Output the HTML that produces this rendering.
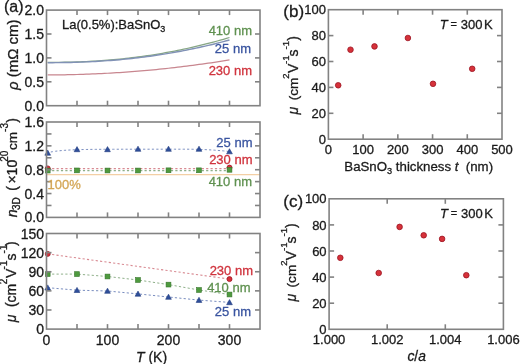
<!DOCTYPE html>
<html><head><meta charset="utf-8"><style>
html,body{margin:0;padding:0;background:#fff;}
svg{display:block;font-family:"Liberation Sans", Arial, sans-serif;}
text{stroke-width:0.3px;}
</style></head><body>
<svg width="520" height="364" viewBox="0 0 520 364">
<rect width="520" height="364" fill="#fff"/>
<polyline points="47.72,74.92 49.55,74.91 52.60,74.90 55.65,74.88 58.70,74.85 61.75,74.81 64.80,74.77 67.85,74.71 70.90,74.65 73.95,74.58 77.00,74.50 80.05,74.41 83.10,74.32 86.15,74.21 89.20,74.10 92.25,73.98 95.30,73.85 98.35,73.71 101.40,73.57 104.45,73.41 107.50,73.25 110.55,73.08 113.60,72.90 116.65,72.71 119.70,72.52 122.75,72.31 125.80,72.10 128.85,71.88 131.90,71.65 134.95,71.41 138.00,71.16 141.05,70.91 144.10,70.65 147.15,70.38 150.20,70.10 153.25,69.81 156.30,69.51 159.35,69.21 162.40,68.90 165.45,68.58 168.50,68.25 171.55,67.91 174.60,67.56 177.65,67.21 180.70,66.85 183.75,66.47 186.80,66.09 189.85,65.71 192.90,65.31 195.95,64.91 199.00,64.49 202.05,64.07 205.10,63.64 208.15,63.21 211.20,62.76 214.25,62.30 217.30,61.84 220.35,61.37 223.40,60.89 226.45,60.40 229.50,59.91" fill="none" stroke="#c8868f" stroke-width="1.25" />
<polyline points="47.72,62.39 49.55,62.39 52.60,62.38 55.65,62.36 58.70,62.33 61.75,62.29 64.80,62.24 67.85,62.17 70.90,62.10 73.95,62.01 77.00,61.91 80.05,61.80 83.10,61.67 86.15,61.53 89.20,61.38 92.25,61.21 95.30,61.03 98.35,60.84 101.40,60.63 104.45,60.41 107.50,60.17 110.55,59.92 113.60,59.65 116.65,59.37 119.70,59.08 122.75,58.76 125.80,58.44 128.85,58.09 131.90,57.74 134.95,57.36 138.00,56.97 141.05,56.57 144.10,56.15 147.15,55.71 150.20,55.26 153.25,54.78 156.30,54.30 159.35,53.80 162.40,53.28 165.45,52.74 168.50,52.19 171.55,51.62 174.60,51.03 177.65,50.43 180.70,49.81 183.75,49.17 186.80,48.51 189.85,47.84 192.90,47.15 195.95,46.44 199.00,45.72 202.05,44.98 205.10,44.22 208.15,43.44 211.20,42.64 214.25,41.83 217.30,41.00 220.35,40.15 223.40,39.28 226.45,38.39 229.50,37.49" fill="none" stroke="#86a684" stroke-width="1.25" />
<polyline points="47.72,62.68 49.55,62.68 52.60,62.67 55.65,62.65 58.70,62.62 61.75,62.58 64.80,62.54 67.85,62.48 70.90,62.41 73.95,62.33 77.00,62.24 80.05,62.14 83.10,62.02 86.15,61.90 89.20,61.76 92.25,61.60 95.30,61.44 98.35,61.26 101.40,61.07 104.45,60.87 107.50,60.65 110.55,60.43 113.60,60.18 116.65,59.93 119.70,59.66 122.75,59.37 125.80,59.07 128.85,58.76 131.90,58.43 134.95,58.09 138.00,57.74 141.05,57.37 144.10,56.98 147.15,56.59 150.20,56.17 153.25,55.74 156.30,55.30 159.35,54.84 162.40,54.37 165.45,53.88 168.50,53.37 171.55,52.86 174.60,52.32 177.65,51.77 180.70,51.20 183.75,50.62 186.80,50.03 189.85,49.41 192.90,48.78 195.95,48.14 199.00,47.48 202.05,46.80 205.10,46.11 208.15,45.40 211.20,44.67 214.25,43.93 217.30,43.17 220.35,42.40 223.40,41.61 226.45,40.80 229.50,39.97" fill="none" stroke="#8192b6" stroke-width="1.45" />
<line x1="46.50" y1="174.60" x2="260.00" y2="174.60" stroke="#f3cfa5" stroke-width="1.2" />
<line x1="47.72" y1="168.60" x2="229.50" y2="168.60" stroke="#d88a92" stroke-width="1.1" stroke-dasharray="2.2,2.2"/>
<line x1="47.72" y1="170.60" x2="229.50" y2="170.60" stroke="#8fb08a" stroke-width="1.1" stroke-dasharray="2.2,2.2"/>
<polyline points="46.50,152.90 49.55,152.23 52.60,151.68 55.65,151.23 58.70,150.86 61.75,150.56 64.80,150.31 67.85,150.11 70.90,149.95 73.95,149.81 77.00,149.70 80.05,149.61 83.10,149.54 86.15,149.47 89.20,149.42 92.25,149.38 95.30,149.35 98.35,149.32 101.40,149.30 104.45,149.28 107.50,149.27 110.55,149.26 113.60,149.25 116.65,149.24 119.70,149.23 122.75,149.22 125.80,149.22 128.85,149.22 131.90,149.21 134.95,149.21 138.00,149.21 141.05,149.21 144.10,149.21 147.15,149.21 150.20,149.20 153.25,149.20 156.30,149.20 159.35,149.20 162.40,149.20 165.45,149.20 168.50,149.20 171.55,149.20 174.60,149.20 177.65,149.20 180.70,149.20 183.75,149.20 186.80,149.20 189.85,149.21 192.90,149.25 195.95,149.31 199.00,149.39 202.05,149.49 205.10,149.62 208.15,149.78 211.20,149.95 214.25,150.15 217.30,150.37 220.35,150.62 223.40,150.89 226.45,151.18 229.50,151.50" fill="none" stroke="#7a8ec0" stroke-width="1.0" stroke-dasharray="2.2,2.2"/>
<circle cx="47.72" cy="168.40" r="2.5" fill="#d6323a" stroke="#9c1422" stroke-width="0.8"/>
<circle cx="229.50" cy="167.60" r="2.5" fill="#d6323a" stroke="#9c1422" stroke-width="0.8"/>
<rect x="45.32" y="168.20" width="4.8" height="4.8" fill="#4e9a3e" stroke="#35752b" stroke-width="0.6"/>
<rect x="74.60" y="168.00" width="4.8" height="4.8" fill="#4e9a3e" stroke="#35752b" stroke-width="0.6"/>
<rect x="105.10" y="168.10" width="4.8" height="4.8" fill="#4e9a3e" stroke="#35752b" stroke-width="0.6"/>
<rect x="135.60" y="168.10" width="4.8" height="4.8" fill="#4e9a3e" stroke="#35752b" stroke-width="0.6"/>
<rect x="166.10" y="167.90" width="4.8" height="4.8" fill="#4e9a3e" stroke="#35752b" stroke-width="0.6"/>
<rect x="196.60" y="167.90" width="4.8" height="4.8" fill="#4e9a3e" stroke="#35752b" stroke-width="0.6"/>
<rect x="227.10" y="167.40" width="4.8" height="4.8" fill="#4e9a3e" stroke="#35752b" stroke-width="0.6"/>
<polygon points="47.72,150.08 44.87,155.21 50.57,155.21" fill="#2f4f9a" stroke="#203a80" stroke-width="0.6"/>
<polygon points="77.00,146.58 74.15,151.71 79.85,151.71" fill="#2f4f9a" stroke="#203a80" stroke-width="0.6"/>
<polygon points="107.50,146.58 104.65,151.71 110.35,151.71" fill="#2f4f9a" stroke="#203a80" stroke-width="0.6"/>
<polygon points="138.00,146.18 135.15,151.31 140.85,151.31" fill="#2f4f9a" stroke="#203a80" stroke-width="0.6"/>
<polygon points="168.50,146.18 165.65,151.31 171.35,151.31" fill="#2f4f9a" stroke="#203a80" stroke-width="0.6"/>
<polygon points="199.00,146.18 196.15,151.31 201.85,151.31" fill="#2f4f9a" stroke="#203a80" stroke-width="0.6"/>
<polygon points="229.50,148.68 226.65,153.81 232.35,153.81" fill="#2f4f9a" stroke="#203a80" stroke-width="0.6"/>
<line x1="47.72" y1="253.90" x2="229.50" y2="279.10" stroke="#d88a92" stroke-width="1.1" stroke-dasharray="2.2,2.2"/>
<polyline points="47.72,274.10 77.00,274.10 107.50,276.50 138.00,280.00 168.50,284.60 199.00,290.00 229.50,294.50" fill="none" stroke="#8fb08a" stroke-width="1.0" stroke-dasharray="2.2,2.2"/>
<polyline points="47.72,287.70 77.00,290.20 107.50,291.00 138.00,293.90 168.50,297.00 199.00,300.10 229.50,302.40" fill="none" stroke="#7a8ec0" stroke-width="1.0" stroke-dasharray="2.2,2.2"/>
<circle cx="47.72" cy="253.90" r="2.5" fill="#d6323a" stroke="#9c1422" stroke-width="0.8"/>
<circle cx="229.50" cy="279.10" r="2.5" fill="#d6323a" stroke="#9c1422" stroke-width="0.8"/>
<rect x="45.32" y="271.70" width="4.8" height="4.8" fill="#4e9a3e" stroke="#35752b" stroke-width="0.6"/>
<rect x="74.60" y="271.70" width="4.8" height="4.8" fill="#4e9a3e" stroke="#35752b" stroke-width="0.6"/>
<rect x="105.10" y="274.10" width="4.8" height="4.8" fill="#4e9a3e" stroke="#35752b" stroke-width="0.6"/>
<rect x="135.60" y="277.60" width="4.8" height="4.8" fill="#4e9a3e" stroke="#35752b" stroke-width="0.6"/>
<rect x="166.10" y="282.20" width="4.8" height="4.8" fill="#4e9a3e" stroke="#35752b" stroke-width="0.6"/>
<rect x="196.60" y="287.60" width="4.8" height="4.8" fill="#4e9a3e" stroke="#35752b" stroke-width="0.6"/>
<rect x="227.10" y="292.10" width="4.8" height="4.8" fill="#4e9a3e" stroke="#35752b" stroke-width="0.6"/>
<polygon points="47.72,284.88 44.87,290.01 50.57,290.01" fill="#2f4f9a" stroke="#203a80" stroke-width="0.6"/>
<polygon points="77.00,287.38 74.15,292.51 79.85,292.51" fill="#2f4f9a" stroke="#203a80" stroke-width="0.6"/>
<polygon points="107.50,288.18 104.65,293.31 110.35,293.31" fill="#2f4f9a" stroke="#203a80" stroke-width="0.6"/>
<polygon points="138.00,291.08 135.15,296.21 140.85,296.21" fill="#2f4f9a" stroke="#203a80" stroke-width="0.6"/>
<polygon points="168.50,294.18 165.65,299.31 171.35,299.31" fill="#2f4f9a" stroke="#203a80" stroke-width="0.6"/>
<polygon points="199.00,297.28 196.15,302.41 201.85,302.41" fill="#2f4f9a" stroke="#203a80" stroke-width="0.6"/>
<polygon points="229.50,299.58 226.65,304.71 232.35,304.71" fill="#2f4f9a" stroke="#203a80" stroke-width="0.6"/>
<rect x="46.50" y="10.10" width="213.50" height="95.60" fill="none" stroke="#828282" stroke-width="1.6"/>
<line x1="77.00" y1="105.70" x2="77.00" y2="100.70" stroke="#828282" stroke-width="1.6" />
<line x1="77.00" y1="10.10" x2="77.00" y2="15.10" stroke="#828282" stroke-width="1.6" />
<line x1="107.50" y1="105.70" x2="107.50" y2="100.70" stroke="#828282" stroke-width="1.6" />
<line x1="107.50" y1="10.10" x2="107.50" y2="15.10" stroke="#828282" stroke-width="1.6" />
<line x1="138.00" y1="105.70" x2="138.00" y2="100.70" stroke="#828282" stroke-width="1.6" />
<line x1="138.00" y1="10.10" x2="138.00" y2="15.10" stroke="#828282" stroke-width="1.6" />
<line x1="168.50" y1="105.70" x2="168.50" y2="100.70" stroke="#828282" stroke-width="1.6" />
<line x1="168.50" y1="10.10" x2="168.50" y2="15.10" stroke="#828282" stroke-width="1.6" />
<line x1="199.00" y1="105.70" x2="199.00" y2="100.70" stroke="#828282" stroke-width="1.6" />
<line x1="199.00" y1="10.10" x2="199.00" y2="15.10" stroke="#828282" stroke-width="1.6" />
<line x1="229.50" y1="105.70" x2="229.50" y2="100.70" stroke="#828282" stroke-width="1.6" />
<line x1="229.50" y1="10.10" x2="229.50" y2="15.10" stroke="#828282" stroke-width="1.6" />
<rect x="46.50" y="122.00" width="213.50" height="95.40" fill="none" stroke="#828282" stroke-width="1.6"/>
<line x1="77.00" y1="217.40" x2="77.00" y2="212.40" stroke="#828282" stroke-width="1.6" />
<line x1="77.00" y1="122.00" x2="77.00" y2="127.00" stroke="#828282" stroke-width="1.6" />
<line x1="107.50" y1="217.40" x2="107.50" y2="212.40" stroke="#828282" stroke-width="1.6" />
<line x1="107.50" y1="122.00" x2="107.50" y2="127.00" stroke="#828282" stroke-width="1.6" />
<line x1="138.00" y1="217.40" x2="138.00" y2="212.40" stroke="#828282" stroke-width="1.6" />
<line x1="138.00" y1="122.00" x2="138.00" y2="127.00" stroke="#828282" stroke-width="1.6" />
<line x1="168.50" y1="217.40" x2="168.50" y2="212.40" stroke="#828282" stroke-width="1.6" />
<line x1="168.50" y1="122.00" x2="168.50" y2="127.00" stroke="#828282" stroke-width="1.6" />
<line x1="199.00" y1="217.40" x2="199.00" y2="212.40" stroke="#828282" stroke-width="1.6" />
<line x1="199.00" y1="122.00" x2="199.00" y2="127.00" stroke="#828282" stroke-width="1.6" />
<line x1="229.50" y1="217.40" x2="229.50" y2="212.40" stroke="#828282" stroke-width="1.6" />
<line x1="229.50" y1="122.00" x2="229.50" y2="127.00" stroke="#828282" stroke-width="1.6" />
<rect x="46.50" y="233.50" width="213.50" height="95.60" fill="none" stroke="#828282" stroke-width="1.6"/>
<line x1="77.00" y1="329.10" x2="77.00" y2="324.10" stroke="#828282" stroke-width="1.6" />
<line x1="77.00" y1="233.50" x2="77.00" y2="238.50" stroke="#828282" stroke-width="1.6" />
<line x1="107.50" y1="329.10" x2="107.50" y2="324.10" stroke="#828282" stroke-width="1.6" />
<line x1="107.50" y1="233.50" x2="107.50" y2="238.50" stroke="#828282" stroke-width="1.6" />
<line x1="138.00" y1="329.10" x2="138.00" y2="324.10" stroke="#828282" stroke-width="1.6" />
<line x1="138.00" y1="233.50" x2="138.00" y2="238.50" stroke="#828282" stroke-width="1.6" />
<line x1="168.50" y1="329.10" x2="168.50" y2="324.10" stroke="#828282" stroke-width="1.6" />
<line x1="168.50" y1="233.50" x2="168.50" y2="238.50" stroke="#828282" stroke-width="1.6" />
<line x1="199.00" y1="329.10" x2="199.00" y2="324.10" stroke="#828282" stroke-width="1.6" />
<line x1="199.00" y1="233.50" x2="199.00" y2="238.50" stroke="#828282" stroke-width="1.6" />
<line x1="229.50" y1="329.10" x2="229.50" y2="324.10" stroke="#828282" stroke-width="1.6" />
<line x1="229.50" y1="233.50" x2="229.50" y2="238.50" stroke="#828282" stroke-width="1.6" />
<line x1="46.50" y1="81.80" x2="51.50" y2="81.80" stroke="#828282" stroke-width="1.6" />
<line x1="260.00" y1="81.80" x2="255.00" y2="81.80" stroke="#828282" stroke-width="1.6" />
<line x1="46.50" y1="57.90" x2="51.50" y2="57.90" stroke="#828282" stroke-width="1.6" />
<line x1="260.00" y1="57.90" x2="255.00" y2="57.90" stroke="#828282" stroke-width="1.6" />
<line x1="46.50" y1="34.00" x2="51.50" y2="34.00" stroke="#828282" stroke-width="1.6" />
<line x1="260.00" y1="34.00" x2="255.00" y2="34.00" stroke="#828282" stroke-width="1.6" />
<text x="44.00" y="110.70" font-size="14" text-anchor="end" fill="#1a1a1a" stroke="#1a1a1a" >0.0</text>
<text x="44.00" y="86.80" font-size="14" text-anchor="end" fill="#1a1a1a" stroke="#1a1a1a" >0.5</text>
<text x="44.00" y="62.90" font-size="14" text-anchor="end" fill="#1a1a1a" stroke="#1a1a1a" >1.0</text>
<text x="44.00" y="39.00" font-size="14" text-anchor="end" fill="#1a1a1a" stroke="#1a1a1a" >1.5</text>
<text x="44.00" y="15.10" font-size="14" text-anchor="end" fill="#1a1a1a" stroke="#1a1a1a" >2.0</text>
<line x1="46.50" y1="205.47" x2="51.50" y2="205.47" stroke="#828282" stroke-width="1.6" />
<line x1="260.00" y1="205.47" x2="255.00" y2="205.47" stroke="#828282" stroke-width="1.6" />
<line x1="46.50" y1="193.55" x2="51.50" y2="193.55" stroke="#828282" stroke-width="1.6" />
<line x1="260.00" y1="193.55" x2="255.00" y2="193.55" stroke="#828282" stroke-width="1.6" />
<line x1="46.50" y1="181.62" x2="51.50" y2="181.62" stroke="#828282" stroke-width="1.6" />
<line x1="260.00" y1="181.62" x2="255.00" y2="181.62" stroke="#828282" stroke-width="1.6" />
<line x1="46.50" y1="169.70" x2="51.50" y2="169.70" stroke="#828282" stroke-width="1.6" />
<line x1="260.00" y1="169.70" x2="255.00" y2="169.70" stroke="#828282" stroke-width="1.6" />
<line x1="46.50" y1="157.78" x2="51.50" y2="157.78" stroke="#828282" stroke-width="1.6" />
<line x1="260.00" y1="157.78" x2="255.00" y2="157.78" stroke="#828282" stroke-width="1.6" />
<line x1="46.50" y1="145.85" x2="51.50" y2="145.85" stroke="#828282" stroke-width="1.6" />
<line x1="260.00" y1="145.85" x2="255.00" y2="145.85" stroke="#828282" stroke-width="1.6" />
<line x1="46.50" y1="133.93" x2="51.50" y2="133.93" stroke="#828282" stroke-width="1.6" />
<line x1="260.00" y1="133.93" x2="255.00" y2="133.93" stroke="#828282" stroke-width="1.6" />
<text x="44.00" y="222.40" font-size="14" text-anchor="end" fill="#1a1a1a" stroke="#1a1a1a" >0.0</text>
<text x="44.00" y="198.55" font-size="14" text-anchor="end" fill="#1a1a1a" stroke="#1a1a1a" >0.4</text>
<text x="44.00" y="174.70" font-size="14" text-anchor="end" fill="#1a1a1a" stroke="#1a1a1a" >0.8</text>
<text x="44.00" y="150.85" font-size="14" text-anchor="end" fill="#1a1a1a" stroke="#1a1a1a" >1.2</text>
<text x="44.00" y="127.00" font-size="14" text-anchor="end" fill="#1a1a1a" stroke="#1a1a1a" >1.6</text>
<line x1="46.50" y1="309.98" x2="51.50" y2="309.98" stroke="#828282" stroke-width="1.6" />
<line x1="260.00" y1="309.98" x2="255.00" y2="309.98" stroke="#828282" stroke-width="1.6" />
<line x1="46.50" y1="290.86" x2="51.50" y2="290.86" stroke="#828282" stroke-width="1.6" />
<line x1="260.00" y1="290.86" x2="255.00" y2="290.86" stroke="#828282" stroke-width="1.6" />
<line x1="46.50" y1="271.74" x2="51.50" y2="271.74" stroke="#828282" stroke-width="1.6" />
<line x1="260.00" y1="271.74" x2="255.00" y2="271.74" stroke="#828282" stroke-width="1.6" />
<line x1="46.50" y1="252.62" x2="51.50" y2="252.62" stroke="#828282" stroke-width="1.6" />
<line x1="260.00" y1="252.62" x2="255.00" y2="252.62" stroke="#828282" stroke-width="1.6" />
<text x="44.00" y="334.10" font-size="14" text-anchor="end" fill="#1a1a1a" stroke="#1a1a1a" >0</text>
<text x="44.00" y="314.98" font-size="14" text-anchor="end" fill="#1a1a1a" stroke="#1a1a1a" >30</text>
<text x="44.00" y="295.86" font-size="14" text-anchor="end" fill="#1a1a1a" stroke="#1a1a1a" >60</text>
<text x="44.00" y="276.74" font-size="14" text-anchor="end" fill="#1a1a1a" stroke="#1a1a1a" >90</text>
<text x="44.00" y="257.62" font-size="14" text-anchor="end" fill="#1a1a1a" stroke="#1a1a1a" >120</text>
<text x="44.00" y="238.50" font-size="14" text-anchor="end" fill="#1a1a1a" stroke="#1a1a1a" >150</text>
<text x="46.50" y="345.20" font-size="14" text-anchor="middle" fill="#1a1a1a" stroke="#1a1a1a" >0</text>
<text x="107.50" y="345.20" font-size="14" text-anchor="middle" fill="#1a1a1a" stroke="#1a1a1a" >100</text>
<text x="168.50" y="345.20" font-size="14" text-anchor="middle" fill="#1a1a1a" stroke="#1a1a1a" >200</text>
<text x="229.50" y="345.20" font-size="14" text-anchor="middle" fill="#1a1a1a" stroke="#1a1a1a" >300</text>
<text x="136.00" y="362.00" font-size="14" text-anchor="start" fill="#1a1a1a" stroke="#1a1a1a" ><tspan font-style="italic">T</tspan> (K)</text>
<text x="4.00" y="12.00" font-size="16" text-anchor="start" fill="#1a1a1a" stroke="#1a1a1a" >(a)</text>
<text x="62.00" y="28.90" font-size="13" text-anchor="start" fill="#1a1a1a" stroke="#1a1a1a" >La(0.5%):BaSnO<tspan font-size="9" dy="3">3</tspan></text>
<text x="252.00" y="34.50" font-size="13" text-anchor="end" fill="#5f9150" stroke="#5f9150" >410 nm</text>
<text x="251.00" y="53.40" font-size="13" text-anchor="end" fill="#3a55a0" stroke="#3a55a0" >25 nm</text>
<text x="252.00" y="74.90" font-size="13" text-anchor="end" fill="#d0343e" stroke="#d0343e" >230 nm</text>
<text x="252.50" y="146.80" font-size="13" text-anchor="end" fill="#3a55a0" stroke="#3a55a0" >25 nm</text>
<text x="252.50" y="164.20" font-size="13" text-anchor="end" fill="#d0343e" stroke="#d0343e" >230 nm</text>
<text x="252.00" y="186.10" font-size="13" text-anchor="end" fill="#5f9150" stroke="#5f9150" >410 nm</text>
<text x="47.50" y="189.40" font-size="13" text-anchor="start" fill="#d4a655" stroke="#d4a655" >100%</text>
<text x="253.00" y="275.10" font-size="13" text-anchor="end" fill="#d0343e" stroke="#d0343e" >230 nm</text>
<text x="250.50" y="292.00" font-size="13" text-anchor="end" fill="#5f9150" stroke="#5f9150" >410 nm</text>
<text x="251.00" y="315.50" font-size="13" text-anchor="end" fill="#3a55a0" stroke="#3a55a0" >25 nm</text>
<text transform="translate(17.70,54.80) rotate(-90)" font-size="15" text-anchor="middle" fill="#1a1a1a" stroke="#1a1a1a"><tspan font-style="italic">ρ</tspan> (mΩ cm)</text>
<text transform="translate(17.30,0) rotate(-90)" fill="#1a1a1a" stroke="#1a1a1a"><tspan x="-217.13" y="0.00" font-size="14" font-style="italic">n</tspan><tspan x="-210.08" y="3.00" font-size="10">3D</tspan><tspan x="-190.87" y="0.00" font-size="14">(</tspan><tspan x="-183.57" y="0.00" font-size="14">×10</tspan><tspan x="-161.75" y="-9.60" font-size="10">20</tspan><tspan x="-150.08" y="0.00" font-size="13.6">cm</tspan><tspan x="-131.94" y="-9.60" font-size="10">-3</tspan><tspan x="-122.78" y="0.00" font-size="14">)</tspan></text>
<text transform="translate(16.40,0) rotate(-90)" fill="#1a1a1a" stroke="#1a1a1a"><tspan x="-322.21" y="0.00" font-size="14" font-style="italic">μ</tspan><tspan x="-307.12" y="0.00" font-size="14">(cm</tspan><tspan x="-284.25" y="-9.40" font-size="10">2</tspan><tspan x="-278.06" y="0.00" font-size="14">V</tspan><tspan x="-269.44" y="-9.40" font-size="10">-1</tspan><tspan x="-260.39" y="0.00" font-size="14">s</tspan><tspan x="-253.44" y="-9.40" font-size="10">-1</tspan><tspan x="-246.08" y="0.00" font-size="14">)</tspan></text>
<text transform="translate(297.80,0) rotate(-90)" fill="#1a1a1a" stroke="#1a1a1a"><tspan x="-114.46" y="0.00" font-size="14" font-style="italic">μ</tspan><tspan x="-100.34" y="0.00" font-size="13.6">(cm</tspan><tspan x="-78.73" y="-8.60" font-size="9.5">2</tspan><tspan x="-73.06" y="0.00" font-size="14">V</tspan><tspan x="-63.92" y="-8.60" font-size="9.5">-1</tspan><tspan x="-56.39" y="0.00" font-size="14">s</tspan><tspan x="-49.42" y="-8.60" font-size="9.5">-1</tspan><tspan x="-40.83" y="0.00" font-size="14">)</tspan></text>
<text transform="translate(295.60,0) rotate(-90)" fill="#1a1a1a" stroke="#1a1a1a"><tspan x="-301.56" y="0.00" font-size="14" font-style="italic">μ</tspan><tspan x="-287.44" y="0.00" font-size="13.6">(cm</tspan><tspan x="-265.83" y="-8.60" font-size="9.5">2</tspan><tspan x="-260.16" y="0.00" font-size="14">V</tspan><tspan x="-251.02" y="-8.60" font-size="9.5">-1</tspan><tspan x="-243.49" y="0.00" font-size="14">s</tspan><tspan x="-236.52" y="-8.60" font-size="9.5">-1</tspan><tspan x="-227.93" y="0.00" font-size="14">)</tspan></text>
<circle cx="338.20" cy="85.30" r="2.8" fill="#d6323a" stroke="#9c1422" stroke-width="0.8"/>
<circle cx="350.50" cy="49.70" r="2.8" fill="#d6323a" stroke="#9c1422" stroke-width="0.8"/>
<circle cx="374.50" cy="46.40" r="2.8" fill="#d6323a" stroke="#9c1422" stroke-width="0.8"/>
<circle cx="407.90" cy="38.00" r="2.8" fill="#d6323a" stroke="#9c1422" stroke-width="0.8"/>
<circle cx="433.00" cy="83.80" r="2.8" fill="#d6323a" stroke="#9c1422" stroke-width="0.8"/>
<circle cx="472.20" cy="68.80" r="2.8" fill="#d6323a" stroke="#9c1422" stroke-width="0.8"/>
<rect x="328.40" y="9.70" width="173.60" height="129.50" fill="none" stroke="#828282" stroke-width="1.6"/>
<line x1="328.40" y1="113.30" x2="333.40" y2="113.30" stroke="#828282" stroke-width="1.6" />
<line x1="502.00" y1="113.30" x2="497.00" y2="113.30" stroke="#828282" stroke-width="1.6" />
<line x1="328.40" y1="87.40" x2="333.40" y2="87.40" stroke="#828282" stroke-width="1.6" />
<line x1="502.00" y1="87.40" x2="497.00" y2="87.40" stroke="#828282" stroke-width="1.6" />
<line x1="328.40" y1="61.50" x2="333.40" y2="61.50" stroke="#828282" stroke-width="1.6" />
<line x1="502.00" y1="61.50" x2="497.00" y2="61.50" stroke="#828282" stroke-width="1.6" />
<line x1="328.40" y1="35.60" x2="333.40" y2="35.60" stroke="#828282" stroke-width="1.6" />
<line x1="502.00" y1="35.60" x2="497.00" y2="35.60" stroke="#828282" stroke-width="1.6" />
<text x="325.90" y="143.80" font-size="13" text-anchor="end" fill="#1a1a1a" stroke="#1a1a1a" >0</text>
<text x="325.90" y="117.90" font-size="13" text-anchor="end" fill="#1a1a1a" stroke="#1a1a1a" >20</text>
<text x="325.90" y="92.00" font-size="13" text-anchor="end" fill="#1a1a1a" stroke="#1a1a1a" >40</text>
<text x="325.90" y="66.10" font-size="13" text-anchor="end" fill="#1a1a1a" stroke="#1a1a1a" >60</text>
<text x="325.90" y="40.20" font-size="13" text-anchor="end" fill="#1a1a1a" stroke="#1a1a1a" >80</text>
<text x="325.90" y="14.30" font-size="13" text-anchor="end" fill="#1a1a1a" stroke="#1a1a1a" >100</text>
<line x1="363.12" y1="139.20" x2="363.12" y2="134.20" stroke="#828282" stroke-width="1.6" />
<line x1="363.12" y1="9.70" x2="363.12" y2="14.70" stroke="#828282" stroke-width="1.6" />
<line x1="397.84" y1="139.20" x2="397.84" y2="134.20" stroke="#828282" stroke-width="1.6" />
<line x1="397.84" y1="9.70" x2="397.84" y2="14.70" stroke="#828282" stroke-width="1.6" />
<line x1="432.56" y1="139.20" x2="432.56" y2="134.20" stroke="#828282" stroke-width="1.6" />
<line x1="432.56" y1="9.70" x2="432.56" y2="14.70" stroke="#828282" stroke-width="1.6" />
<line x1="467.28" y1="139.20" x2="467.28" y2="134.20" stroke="#828282" stroke-width="1.6" />
<line x1="467.28" y1="9.70" x2="467.28" y2="14.70" stroke="#828282" stroke-width="1.6" />
<text x="328.40" y="154.20" font-size="13" text-anchor="middle" fill="#1a1a1a" stroke="#1a1a1a" >0</text>
<text x="363.12" y="154.20" font-size="13" text-anchor="middle" fill="#1a1a1a" stroke="#1a1a1a" >100</text>
<text x="397.84" y="154.20" font-size="13" text-anchor="middle" fill="#1a1a1a" stroke="#1a1a1a" >200</text>
<text x="432.56" y="154.20" font-size="13" text-anchor="middle" fill="#1a1a1a" stroke="#1a1a1a" >300</text>
<text x="467.28" y="154.20" font-size="13" text-anchor="middle" fill="#1a1a1a" stroke="#1a1a1a" >400</text>
<text x="502.00" y="154.20" font-size="13" text-anchor="middle" fill="#1a1a1a" stroke="#1a1a1a" >500</text>
<text x="283.30" y="17.30" font-size="17" text-anchor="start" fill="#1a1a1a" stroke="#1a1a1a" >(b)</text>
<text y="28.60" font-size="13" fill="#1a1a1a" stroke="#1a1a1a"><tspan x="439.70" font-style="italic">T</tspan><tspan x="450.50" font-size="11" dy="-0.4">=</tspan><tspan x="460.80" dy="0.4">300</tspan><tspan x="484.10">K</tspan></text>
<text x="344.30" y="171.00" font-size="13.25" text-anchor="start" fill="#1a1a1a" stroke="#1a1a1a" xml:space="preserve">BaSnO<tspan font-size="9.2" dy="3">3</tspan><tspan dy="-3"> thickness </tspan><tspan font-style="italic">t</tspan>  (nm)</text>
<circle cx="340.30" cy="257.80" r="2.8" fill="#d6323a" stroke="#9c1422" stroke-width="0.8"/>
<circle cx="378.70" cy="273.00" r="2.8" fill="#d6323a" stroke="#9c1422" stroke-width="0.8"/>
<circle cx="399.60" cy="226.90" r="2.8" fill="#d6323a" stroke="#9c1422" stroke-width="0.8"/>
<circle cx="423.70" cy="235.30" r="2.8" fill="#d6323a" stroke="#9c1422" stroke-width="0.8"/>
<circle cx="442.10" cy="238.90" r="2.8" fill="#d6323a" stroke="#9c1422" stroke-width="0.8"/>
<circle cx="466.30" cy="275.20" r="2.8" fill="#d6323a" stroke="#9c1422" stroke-width="0.8"/>
<rect x="329.10" y="198.80" width="174.30" height="130.50" fill="none" stroke="#828282" stroke-width="1.6"/>
<line x1="329.10" y1="303.20" x2="334.10" y2="303.20" stroke="#828282" stroke-width="1.6" />
<line x1="503.40" y1="303.20" x2="498.40" y2="303.20" stroke="#828282" stroke-width="1.6" />
<line x1="329.10" y1="277.10" x2="334.10" y2="277.10" stroke="#828282" stroke-width="1.6" />
<line x1="503.40" y1="277.10" x2="498.40" y2="277.10" stroke="#828282" stroke-width="1.6" />
<line x1="329.10" y1="251.00" x2="334.10" y2="251.00" stroke="#828282" stroke-width="1.6" />
<line x1="503.40" y1="251.00" x2="498.40" y2="251.00" stroke="#828282" stroke-width="1.6" />
<line x1="329.10" y1="224.90" x2="334.10" y2="224.90" stroke="#828282" stroke-width="1.6" />
<line x1="503.40" y1="224.90" x2="498.40" y2="224.90" stroke="#828282" stroke-width="1.6" />
<text x="326.60" y="333.90" font-size="13" text-anchor="end" fill="#1a1a1a" stroke="#1a1a1a" >0</text>
<text x="326.60" y="307.80" font-size="13" text-anchor="end" fill="#1a1a1a" stroke="#1a1a1a" >20</text>
<text x="326.60" y="281.70" font-size="13" text-anchor="end" fill="#1a1a1a" stroke="#1a1a1a" >40</text>
<text x="326.60" y="255.60" font-size="13" text-anchor="end" fill="#1a1a1a" stroke="#1a1a1a" >60</text>
<text x="326.60" y="229.50" font-size="13" text-anchor="end" fill="#1a1a1a" stroke="#1a1a1a" >80</text>
<text x="326.60" y="203.40" font-size="13" text-anchor="end" fill="#1a1a1a" stroke="#1a1a1a" >100</text>
<line x1="387.20" y1="329.30" x2="387.20" y2="324.30" stroke="#828282" stroke-width="1.6" />
<line x1="387.20" y1="198.80" x2="387.20" y2="203.80" stroke="#828282" stroke-width="1.6" />
<line x1="445.30" y1="329.30" x2="445.30" y2="324.30" stroke="#828282" stroke-width="1.6" />
<line x1="445.30" y1="198.80" x2="445.30" y2="203.80" stroke="#828282" stroke-width="1.6" />
<text x="329.10" y="344.30" font-size="13" text-anchor="middle" fill="#1a1a1a" stroke="#1a1a1a" >1.000</text>
<text x="387.20" y="344.30" font-size="13" text-anchor="middle" fill="#1a1a1a" stroke="#1a1a1a" >1.002</text>
<text x="445.30" y="344.30" font-size="13" text-anchor="middle" fill="#1a1a1a" stroke="#1a1a1a" >1.004</text>
<text x="503.40" y="344.30" font-size="13" text-anchor="middle" fill="#1a1a1a" stroke="#1a1a1a" >1.006</text>
<text x="283.30" y="207.00" font-size="17" text-anchor="start" fill="#1a1a1a" stroke="#1a1a1a" >(c)</text>
<text y="217.70" font-size="13" fill="#1a1a1a" stroke="#1a1a1a"><tspan x="439.91" font-style="italic">T</tspan><tspan x="450.71" font-size="11" dy="-0.4">=</tspan><tspan x="461.01" dy="0.4">300</tspan><tspan x="484.31">K</tspan></text>
<text x="416.60" y="360.70" font-size="13.8" text-anchor="middle" fill="#1a1a1a" stroke="#1a1a1a" ><tspan font-style="italic">c</tspan>/<tspan font-style="italic">a</tspan></text>
</svg>
</body></html>
